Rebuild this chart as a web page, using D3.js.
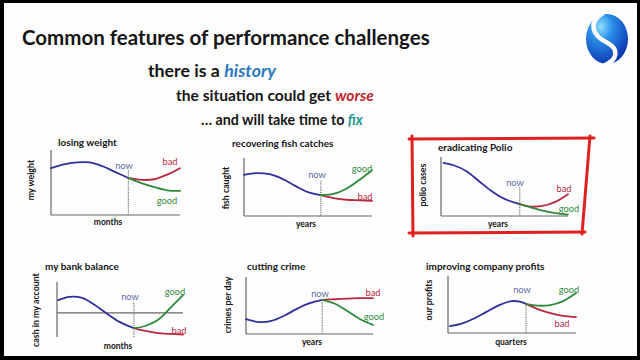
<!DOCTYPE html>
<html><head><meta charset="utf-8">
<script src="https://cdn.jsdelivr.net/npm/d3@7"></script>
<style>body{margin:0;background:#000;} svg{display:block;font-family:Lato,"Open Sans",sans-serif}</style>
</head><body>
<svg id="c" width="640" height="360"></svg>
<script>
// ---------- data ----------
const panelTitles = ["losing weight","recovering fish catches","eradicating Polio","my bank balance","cutting crime","improving company profits"];
const xAxisLabels = ["months","years","years","months","years","quarters"];
const yAxisLabels = ["my weight","fish caught","polio cases","cash in my account","crimes per day","our profits"];
const outcomeLabels = ["now","bad","good"];

const weightHistory = [[0,7.2],[1,7.8],[2,8.1],[3,8.1],[4,7.5],[5,6.6],[6,5.7]];
const weightBad     = [[6,5.7],[7,5.4],[8,5.5],[9,6.2],[10,7.2]];
const weightGood    = [[6,5.7],[7,4.9],[8,4.3],[9,3.8],[10,3.7]];

const fishHistory = [[0,7.1],[1,7.4],[2,7.2],[3,6.4],[4,5.2],[5,4.1],[6,3.6]];
const fishBad     = [[6,3.6],[7,3.1],[8,2.8],[9,2.7],[10,2.6]];
const fishGood    = [[6,3.6],[7,3.8],[8,4.7],[9,6.2],[10,7.9]];

const polioHistory = [[0.2,9.0],[1,8.6],[2,7.6],[3,5.9],[4,4.2],[5,2.9],[6.2,2.0]];
const polioBad     = [[6.2,2.0],[7,1.6],[8,1.7],[9,2.4],[10,3.7]];
const polioGood    = [[6.2,2.0],[7,1.5],[8,0.9],[9,0.5],[10,0.25]];

const bankHistory = [[0.1,6.7],[1,7.3],[2,7.1],[3,5.8],[4,4.2],[5,2.7],[6.1,1.6]];
const bankBad     = [[6.1,1.6],[7,1.1],[8,0.7],[9,0.55],[10,0.45]];
const bankGood    = [[6.1,1.6],[7,2.0],[8,3.1],[9,5.3],[10,7.6]];
const bankZero    = 4.4;

const crimeHistory = [[0,2.6],[1,2.1],[2,2.3],[3,3.2],[4,4.4],[5,5.4],[6,6.0]];
const crimeBad     = [[6,6.0],[7,6.1],[8,6.2],[9,6.3],[10,6.3]];
const crimeGood    = [[6,6.0],[7,5.3],[8,4.0],[9,2.6],[10,1.6]];

const profitHistory = [[0.15,1.2],[1,1.6],[2,2.5],[3,3.7],[4,4.9],[5,5.6],[5.6,5.5],[6.1,5.1]];
const profitBad     = [[6.1,5.1],[7,4.2],[8,3.5],[9,3.0],[10,2.8]];
const profitGood    = [[6.1,5.1],[7,4.8],[8,4.9],[9,5.6],[10,7.0]];

const histories = [weightHistory, fishHistory, polioHistory, bankHistory, crimeHistory, profitHistory];
const bads = [weightBad, fishBad, polioBad, bankBad, crimeBad, profitBad];
const goods = [weightGood, fishGood, polioGood, bankGood, crimeGood, profitGood];

// ---------- layout ----------
const layout = [
  {x0:51,x1:180,yt:150,yb:215,nowTop:170,nowBot:215,title:[58,142],xl:[108,222],yl:[30,180],now:[124,165],bad:[170,161],good:[167,200]},
  {x0:244,x1:372,yt:158,yb:216,nowTop:181,nowBot:216,title:[232,143],xl:[306,224],yl:[225,188],now:[317,174],bad:[365,196],good:[362,168]},
  {x0:441,x1:568,yt:157,yb:216,nowTop:187,nowBot:216,title:[438,147],xl:[498,224],yl:[422,185],now:[515,182],bad:[564,188],good:[569,208]},
  {x0:57,x1:183,yt:282,yb:337,nowTop:303,nowBot:338,title:[45,266],xl:[118,346],yl:[35,310],now:[130,296],bad:[179,330],good:[175,291],zero:true},
  {x0:246,x1:373,yt:277,yb:334,nowTop:300,nowBot:334,title:[247,266],xl:[312,342],yl:[227,305],now:[320,293],bad:[373,292],good:[374,316]},
  {x0:448,x1:576,yt:276,yb:333,nowTop:303,nowBot:333,title:[426,266],xl:[511,342],yl:[428,300],now:[522,289],bad:[562,323],good:[569,289]}
];

const C = {blue:"#2f2f9c", red:"#b8283f", green:"#2e8a3a", now:"#5d6c9e", axis:"#666", text:"#151515"};

const svg = d3.select("#c");
svg.append("rect").attr("x",4).attr("y",3).attr("width",633).attr("height",353).attr("fill","#fdfdfd");

// header
function fitText(sel, target){
  const w = sel.node().getComputedTextLength();
  const fs = parseFloat(sel.attr("font-size"));
  sel.attr("font-size", fs*target/w);
}
const title = svg.append("text").attr("x",22).attr("y",45).attr("font-size",20).attr("font-weight",700)
  .attr("fill",C.text).text("Common features of performance challenges");
fitText(title, 408);

const subs = [
  {x:148,y:77,w:128,pre:"there is a ",em:"history",col:"#2a78bd"},
  {x:176,y:101,w:198,pre:"the situation could get ",em:"worse",col:"#c0282d"},
  {x:201,y:125,w:162,pre:"\u2026 and will take time to ",em:"fix",col:"#1c9a8e"}
];
subs.forEach(s=>{
  const t = svg.append("text").attr("x",s.x).attr("y",s.y).attr("font-size",14).attr("font-weight",700).attr("fill",C.text);
  t.append("tspan").text(s.pre);
  t.append("tspan").attr("font-style","italic").attr("fill",s.col).text(s.em);
  fitText(t, s.w);
});

// logo
const defs = svg.append("defs");
const g1 = defs.append("radialGradient").attr("id","lg").attr("cx","35%").attr("cy","25%").attr("r","80%");
g1.append("stop").attr("offset","0%").attr("stop-color","#8fe0ff");
g1.append("stop").attr("offset","35%").attr("stop-color","#2a8ee8");
g1.append("stop").attr("offset","100%").attr("stop-color","#0a2fb0");
svg.append("ellipse").attr("cx",607).attr("cy",39).attr("rx",21).attr("ry",25).attr("fill","url(#lg)");
svg.append("path").attr("d","M603,13 C588,22 592,35 606,42 C620,49 618,60 603,66")
  .attr("fill","none").attr("stroke","#fdfdfd").attr("stroke-width",4.5);

// panels
const line = d3.line().curve(d3.curveCatmullRom.alpha(0.5));
layout.forEach((L,i)=>{
  const x = d3.scaleLinear().domain([0,10]).range([L.x0,L.x1]);
  const y = d3.scaleLinear().domain([0,10]).range([L.yb,L.yt]);
  const g = svg.append("g");
  const lg = line.x(d=>x(d[0])).y(d=>y(d[1]));
  // axes
  g.append("line").attr("x1",L.x0).attr("x2",L.x0).attr("y1",L.yt).attr("y2",L.yb).attr("stroke",C.axis).attr("stroke-width",1.2);
  const axY = L.zero ? y(bankZero) : L.yb;
  g.append("line").attr("x1",L.x0).attr("x2",L.x1).attr("y1",axY).attr("y2",axY).attr("stroke",C.axis).attr("stroke-width",1.2);
  // now line
  const nowT = histories[i][histories[i].length-1][0];
  g.append("line").attr("x1",x(nowT)).attr("x2",x(nowT)).attr("y1",L.nowTop).attr("y2",L.nowBot)
    .attr("stroke","#777").attr("stroke-width",1.2).attr("stroke-dasharray","1.2,1");
  // series
  [[histories[i],C.blue],[bads[i],C.red],[goods[i],C.green]].forEach(([d,c])=>{
    g.append("path").attr("d",lg(d)).attr("fill","none").attr("stroke",c).attr("stroke-width",1.8).attr("stroke-linecap","round");
  });
  // texts
  g.append("text").attr("x",L.title[0]).attr("y",L.title[1]).attr("dominant-baseline","central")
    .attr("font-size",10).attr("font-weight",700).attr("fill",C.text).text(panelTitles[i]);
  g.append("text").attr("x",L.xl[0]).attr("y",L.xl[1]).attr("text-anchor","middle").attr("dominant-baseline","central")
    .attr("font-size",8.5).attr("font-weight",700).attr("fill",C.text).text(xAxisLabels[i]);
  g.append("text").attr("transform",`translate(${L.yl[0]},${L.yl[1]}) rotate(-90)`).attr("text-anchor","middle").attr("dominant-baseline","central")
    .attr("font-size",8.8).attr("font-weight",700).attr("fill",C.text).text(yAxisLabels[i]);
  [["now",C.now],["bad",C.red],["good",C.green]].forEach(([k,c],j)=>{
    g.append("text").attr("x",L[k][0]).attr("y",L[k][1]).attr("text-anchor","middle").attr("dominant-baseline","central")
      .attr("font-size",9.3).attr("fill",c).text(outcomeLabels[j]);
  });
});

// red highlight frame around polio panel
const frame = [
  [[409,139],[594,138]],
  [[590,136],[582,234]],
  [[409,233],[585,232]],
  [[412,136],[413,236]]
];
frame.forEach(s=>{
  svg.append("path").attr("d",d3.line()(s)).attr("stroke","#e0201f").attr("stroke-width",3).attr("stroke-linecap","round").attr("fill","none");
});
</script>
</body></html>
